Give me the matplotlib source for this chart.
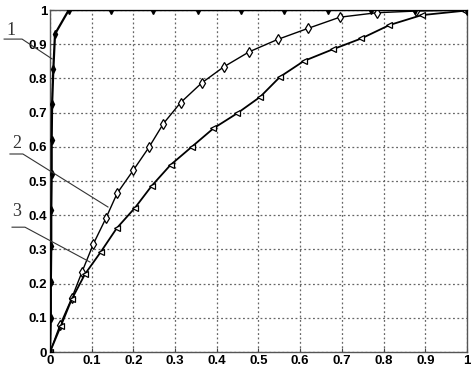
import numpy as np
import matplotlib.pyplot as plt

# curve 1 (filled small diamonds)
x1 = [0, 0.002, 0.002, 0.003, 0.003, 0.004, 0.004, 0.005, 0.008, 0.012, 0.045,
      0.146, 0.248, 0.354, 0.458, 0.561, 0.666, 0.771, 0.875, 1.0]
y1 = [0, 0.10, 0.205, 0.31, 0.415, 0.52, 0.62, 0.725, 0.827, 0.93, 1.0,
      1.0, 1.0, 1.0, 1.0, 1.0, 1.0, 1.0, 1.0, 1.0]

# curve 2 (open diamonds)
x2 = [0, 0.024, 0.052, 0.077, 0.104, 0.134, 0.161, 0.2, 0.237, 0.272, 0.313,
      0.364, 0.417, 0.478, 0.546, 0.618, 0.695, 0.783, 0.878, 1.0]
y2 = [0, 0.079, 0.157, 0.235, 0.316, 0.391, 0.464, 0.532, 0.598, 0.668, 0.729,
      0.787, 0.834, 0.878, 0.914, 0.946, 0.979, 0.992, 0.997, 1.0]

# curve 3 (left triangles)
x3 = [0, 0.026, 0.052, 0.084, 0.122, 0.16, 0.204, 0.244, 0.289, 0.34, 0.392,
      0.449, 0.504, 0.552, 0.609, 0.678, 0.747, 0.814, 0.891, 0.995]
y3 = [0, 0.076, 0.154, 0.228, 0.293, 0.362, 0.422, 0.486, 0.547, 0.6, 0.654,
      0.698, 0.746, 0.805, 0.851, 0.885, 0.917, 0.956, 0.985, 0.998]

ticks = np.round(np.arange(0, 1.01, 0.1), 1)
ticklabels = ['0'] + ['%.1f' % t for t in ticks[1:-1]] + ['1']

fig = plt.figure(figsize=(4.74, 3.71), dpi=100)
ax = fig.add_axes([0.1055, 0.0512, 0.8797, 0.9218])

ax.plot(x1, y1, color='black', lw=1.6, marker='d', ms=4, mfc='black', mec='black', zorder=4)
ax.plot(x2, y2, color='black', lw=1.0, marker='d', ms=5, mfc='white', mec='black', mew=0.9, zorder=3)
ax.plot(x3, y3, color='black', lw=1.3, marker='<', ms=5, mfc='white', mec='black', mew=0.9, zorder=3)

ax.set_xlim(0, 1)
ax.set_ylim(0, 1)
ax.set_xticks(ticks)
ax.set_yticks(ticks)
ax.set_xticklabels(ticklabels, fontweight='bold', fontsize=9.5, family='Liberation Sans')
ax.set_yticklabels(ticklabels, fontweight='bold', fontsize=9.5, family='Liberation Sans')
ax.tick_params(direction='in', length=3, width=0.8, pad=2, color='#444444')
ax.grid(True, linestyle=(0, (1.5, 2)), color='#666666', lw=0.9)
for s in ax.spines.values():
    s.set_color('#555555')
    s.set_linewidth(1.0)

# curve labels with leader lines
labels = [('1', (-0.094, 0.939), [-0.110, -0.067, 0.005], [0.915, 0.915, 0.857]),
          ('2', (-0.079, 0.611), [-0.096, -0.065, 0.139], [0.579, 0.579, 0.424]),
          ('3', (-0.079, 0.412), [-0.091, -0.060, 0.096], [0.365, 0.365, 0.263])]
for txt, pos, lx, ly in labels:
    ax.plot(lx, ly, color='#333333', lw=0.8, clip_on=False, zorder=5)
    ax.text(pos[0], pos[1], txt, family='Liberation Serif', fontsize=13,
            ha='center', va='center', color='#333333')

fig.savefig('out.png', dpi=100)
